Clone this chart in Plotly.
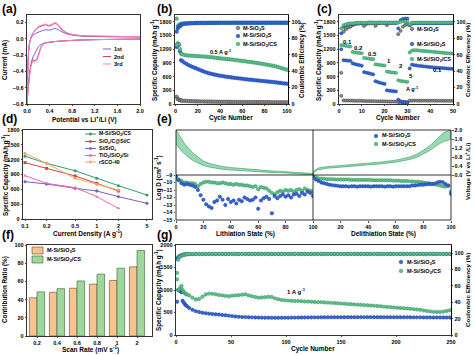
import plotly.graph_objects as go

W, H = 474, 355
FONT = "Arial, Liberation Sans, sans-serif"

# ---------------- data ----------------
# (a) cyclic voltammetry
cv_potential = [2.0, 1.6, 1.2, 0.9, 0.7, 0.5, 0.4, 0.3, 0.25, 0.2, 0.17, 0.14, 0.11, 0.08, 0.05, 0.03, 0.01, 0.0,
                0.01, 0.02, 0.03, 0.05, 0.08, 0.12, 0.17, 0.22, 0.28, 0.33, 0.38, 0.43, 0.5, 0.55, 0.6, 0.7, 0.8,
                1.0, 1.3, 1.6, 2.0]
cv_1st = [-0.005, -0.008, -0.012, -0.018, -0.025, -0.035, -0.042, -0.055, -0.07, -0.1, -0.14, -0.18, -0.22, -0.28,
          -0.4, -0.52, -0.68, -0.78,
          -0.45, -0.25, -0.12, -0.03, 0.02, 0.05, 0.07, 0.085, 0.1, 0.11, 0.105, 0.11, 0.125, 0.11, 0.09, 0.06,
          0.045, 0.03, 0.025, 0.022, 0.02]
cv_2nd = [-0.005, -0.008, -0.012, -0.018, -0.025, -0.035, -0.045, -0.06, -0.1, -0.2, -0.25, -0.27, -0.26, -0.3,
          -0.42, -0.55, -0.7, -0.8,
          -0.5, -0.3, -0.15, -0.04, 0.03, 0.08, 0.12, 0.145, 0.16, 0.17, 0.155, 0.165, 0.185, 0.165, 0.12, 0.07,
          0.05, 0.035, 0.03, 0.027, 0.025]
cv_3rd = [-0.005, -0.008, -0.012, -0.018, -0.025, -0.035, -0.045, -0.06, -0.11, -0.22, -0.27, -0.29, -0.28, -0.31,
          -0.43, -0.56, -0.71, -0.8,
          -0.5, -0.3, -0.15, -0.04, 0.03, 0.085, 0.13, 0.155, 0.17, 0.18, 0.165, 0.175, 0.2, 0.175, 0.13, 0.075,
          0.052, 0.036, 0.031, 0.028, 0.026]

# (b) cycling at 0.5 A/g
b_cycles = [1, 2, 3, 4, 5, 6] + list(range(8, 101, 2))
b_cap_sio2s = [160, 110, 95, 85, 78, 72,
               68, 66, 64, 62, 60, 58, 57, 56, 55, 54,
               53, 52, 51, 50, 50, 49, 48, 48, 47, 47,
               46, 46, 45, 45, 44, 44, 43, 43, 43, 42,
               42, 42, 41, 41, 41, 40, 40, 40, 40, 39,
               39, 39, 38, 38, 38, 38, 37]
b_cap_si = [1250, 1320, 1300, 1150, 960, 940,
            905, 875, 850, 825, 805, 785, 765, 745, 725, 705,
            690, 675, 662, 650, 640, 630, 620, 612, 604, 597,
            590, 583, 576, 570, 564, 558, 552, 546, 540, 535,
            530, 525, 520, 515, 510, 505, 500, 495, 490, 485,
            480, 474, 468, 462, 456, 450, 445]
b_cap_cs = [1870, 1330, 1310, 1200, 1100, 1090,
            1075, 1065, 1060, 1058, 1055, 1050, 1048, 1045, 1040, 1040,
            1035, 1030, 1025, 1020, 1012, 1005, 1000, 995, 990, 985,
            980, 975, 970, 965, 955, 950, 945, 938, 930, 925,
            918, 910, 905, 895, 888, 880, 870, 862, 855, 845,
            835, 822, 810, 795, 780, 765, 750]
b_ce_si = [88, 92, 94, 95, 96, 97,
           97.5, 97.8, 98, 98.2, 98.3, 98.4, 98.5, 98.5, 98.6, 98.6,
           98.6, 98.7, 98.7, 98.7, 98.7, 98.8, 98.8, 98.8, 98.8, 98.8,
           98.8, 98.8, 98.9, 98.9, 98.9, 98.9, 98.9, 98.9, 98.9, 98.9,
           98.9, 98.9, 98.9, 98.9, 98.9, 98.9, 98.9, 98.9, 98.9, 98.9,
           98.9, 98.9, 98.9, 98.9, 98.9, 98.9, 98.9]
b_ce_cs = [72, 95, 96, 97, 97.5, 98,
           98.2, 98.4, 98.5, 98.6, 98.6, 98.7, 98.7, 98.7, 98.8, 98.8,
           98.8, 98.8, 98.8, 98.8, 98.8, 98.8, 98.8, 98.8, 98.8, 98.8,
           98.8, 98.8, 98.8, 98.8, 98.8, 98.8, 98.8, 98.8, 98.8, 98.8,
           98.8, 98.8, 98.8, 98.8, 98.8, 98.8, 98.8, 98.8, 98.8, 98.8,
           98.8, 98.8, 98.8, 98.8, 98.8, 98.8, 98.8]

# (c) rate capability
c_cycles = list(range(1, 51))
c_cap_sio2s = [180, 78, 76, 75, 75, 72, 71, 70, 70, 70, 66, 65, 65, 64, 64, 60, 60, 59, 59, 58,
               55, 54, 54, 53, 53, 45, 20, 40, 42, 42, 72, 74, 74, 74, 73, 73, 73, 73, 72, 72,
               72, 72, 71, 71, 71, 71, 70, 70, 70, 70]
c_cap_si = [1200, 960, 955, 950, 945, 890, 875, 862, 850, 838, 700, 688, 675, 662, 650, 500, 482, 466, 452, 440,
            300, 292, 286, 280, 276, 95, 62, 45, 38, 32, 780, 862, 852, 845, 838, 832, 826, 820, 815, 810,
            805, 800, 796, 792, 788, 784, 780, 776, 772, 768]
c_cap_cs = [1290, 1285, 1275, 1265, 1258, 1140, 1132, 1125, 1118, 1112, 1010, 1002, 995, 988, 982,
            870, 862, 855, 848, 842, 712, 702, 694, 688, 682, 520, 506, 498, 492, 486,
            1130, 1172, 1180, 1178, 1172, 1166, 1162, 1158, 1154, 1150, 1145, 1140, 1135, 1130, 1125,
            1120, 1116, 1112, 1108, 1104]
c_ce_sio2s = [38, 88, 91, 93, 94, 96, 97, 97.5, 98, 98, 95, 97.5, 98, 98, 98.5, 95, 98, 98.5, 98.5, 98.5,
              96, 98.5, 98.5, 98.5, 98.5, 85, 89, 94, 96, 97, 96, 98, 98.5, 98.5, 98.5, 98.5, 98.5, 98.5,
              98.5, 98.5, 98.5, 98.5, 98.5, 98.5, 98.5, 98.5, 98.5, 98.5, 98.5, 98.5]
c_ce_si = [86, 94, 96, 97, 97.5, 97, 98, 98.5, 98.5, 98.5, 98, 98.5, 99, 99, 99, 98.5, 99, 99, 99, 99,
           98.5, 99, 99, 99, 99, 92, 102, 103.5, 104, 104, 96, 98, 98.5, 98.5, 98.5, 98.5, 98.5, 98.5,
           98.5, 98.5, 98.5, 98.5, 98.5, 98.5, 98.5, 98.5, 98.5, 98.5, 98.5, 98.5]
c_ce_cs = [92, 96, 97, 97.5, 98, 98, 98.5, 98.5, 99, 99, 98.5, 99, 99, 99, 99, 99, 99, 99, 99, 99,
           99, 99, 99, 99, 99, 99, 100, 100.5, 100.5, 100.5, 97, 99, 99, 99, 99, 99, 99, 99, 99, 99,
           99, 99, 99, 99, 99, 99, 99, 99, 99, 99]
c_rate_labels = ["0.1", "0.2", "0.5", "1", "2", "5", "0.1"]

# (d) comparison with literature
d_current = [0.1, 0.2, 0.5, 1, 2, 5]
d_current_short = [0.1, 0.2, 0.5, 1, 2]
d_cs = [1270, 1126, 975, 822, 674, 485]
d_sioxc = [1140, 1025, 870, 721, 566]
d_sisiox = [755, 708, 620, 566, 452, 317]
d_tio2 = [876, 721, 634, 452, 216]
d_rsco = [1328, 1126, 822, 700, 586]

# (e) GITT
e_state = list(range(0, 101, 2))
e_li_si = [-9.2, -9.7, -10.1, -10.3, -10.2, -10.3, -10.4, -10.6, -11.0, -11.7, -12.3, -12.9, -13.2, -13.4, -12.6,
           -12.4, -11.9, -12.3, -13.0, -12.2, -12.6, -12.4, -12.8, -12.3, -12.5, -12.0, -12.2, -12.4, -12.3, -12.0,
           -13.5, -12.4, -12.1, -11.9, -12.2, -14.1, -11.8, -12.1, -11.8, -11.6, -11.9, -11.7, -12.0, -11.6, -11.5,
           -11.8, -11.4, -11.6, -11.2, -11.4, -11.8]
e_li_cs = [-9.5, -9.6, -9.8, -10.0, -10.0, -10.1, -10.1, -10.2, -10.5, -10.2, -10.0, -9.9, -9.9, -10.0, -10.0,
           -10.1, -10.1, -10.0, -10.1, -10.2, -10.2, -10.3, -10.2, -10.3, -10.3, -10.4, -10.4, -10.5, -10.6, -10.5,
           -10.9, -10.6, -10.7, -10.8, -11.1, -11.4, -11.6, -11.3, -11.1, -11.2, -11.0, -11.1, -11.0, -11.2, -11.0,
           -10.9, -11.1, -10.8, -11.0, -11.1, -11.2]
e_de_si = [-9.3, -9.6, -9.8, -10.0, -10.1, -10.2, -10.3, -10.35, -10.4, -10.45, -10.5, -10.5, -10.5, -10.55, -10.5,
           -10.5, -10.55, -10.5, -10.5, -10.5, -10.5, -10.55, -10.5, -10.5, -10.5, -10.5, -10.55, -10.5, -10.5, -10.55,
           -10.5, -10.5, -10.5, -10.5, -10.5, -10.5, -10.4, -10.4, -10.35, -10.3, -10.3, -10.25, -10.2, -10.2, -10.15,
           -10.0, -9.9, -9.95, -10.2, -10.4, -11.5]
e_de_cs = [-9.1, -9.3, -9.45, -9.5, -9.5, -9.55, -9.55, -9.55, -9.6, -9.6, -9.6, -9.6, -9.6, -9.6, -9.65,
           -9.65, -9.65, -9.65, -9.65, -9.65, -9.65, -9.65, -9.7, -9.7, -9.7, -9.7, -9.7, -9.7, -9.7, -9.75,
           -9.75, -9.75, -9.8, -9.8, -9.8, -9.85, -9.85, -9.9, -9.9, -9.95, -10.0, -10.05, -10.1, -10.2, -10.25,
           -10.3, -10.4, -10.5, -10.55, -10.45, -11.2]
e_li_env_x = [0, 2, 4, 6, 8, 10, 13, 16, 20, 25, 30, 35, 40, 50, 60, 70, 80, 90, 100]
e_li_upper = [2.0, 1.8, 1.6, 1.42, 1.27, 1.12, 0.95, 0.8, 0.62, 0.5, 0.42, 0.37, 0.33, 0.27, 0.22, 0.18, 0.15, 0.12, 0.07]
e_li_lower = [1.4, 1.22, 1.07, 0.95, 0.84, 0.74, 0.62, 0.52, 0.42, 0.34, 0.29, 0.25, 0.22, 0.18, 0.14, 0.11, 0.09, 0.06, 0.0]
e_de_env_x = [0, 1, 3, 5, 10, 20, 30, 40, 50, 60, 65, 70, 75, 80, 85, 90, 95, 100]
e_de_upper = [0.05, 0.2, 0.28, 0.33, 0.37, 0.42, 0.47, 0.52, 0.58, 0.66, 0.72, 0.8, 0.92, 1.1, 1.32, 1.6, 1.9, 2.0]
e_de_lower = [0.02, 0.14, 0.22, 0.26, 0.3, 0.35, 0.39, 0.44, 0.5, 0.57, 0.62, 0.69, 0.78, 0.93, 1.1, 1.33, 1.5, 1.58]

# (f) capacitive contribution
f_scan_rate = ["0.2", "0.4", "0.6", "0.8", "1", "2"]
f_si = [42, 48, 52.5, 57, 61, 76]
f_cs = [48.5, 52, 60.5, 68, 74.5, 94]

# (g) long cycling at 1 A/g
g_cycles = list(range(1, 11)) + list(range(12, 250, 3))
g_cap_si = [740, 1000, 990, 975, 950, 760, 720, 690, 660, 640,
            600, 560, 530, 510, 495, 485, 475, 468, 460, 455,
            445, 438, 430, 420, 412, 405, 400, 398, 395, 392,
            390, 388, 386, 385, 384, 383, 382, 382, 383, 384,
            385, 386, 387, 388, 389, 390, 390, 391, 392, 392,
            393, 393, 394, 394, 395, 395, 395, 396, 396, 396,
            396, 396, 397, 397, 397, 397, 396, 396, 396, 395,
            395, 395, 394, 394, 394, 393, 393, 393, 392, 392,
            392, 391, 391, 391, 390, 390, 390, 389, 389, 389]
g_cap_cs = [1380, 1000, 1020, 1050, 1090, 1000, 960, 930, 910, 900,
            880, 830, 790, 800, 850, 900, 920, 915, 905, 890,
            880, 870, 860, 875, 880, 885, 895, 905, 880, 860,
            845, 830, 835, 840, 850, 845, 815, 795, 780, 770,
            765, 760, 755, 755, 750, 745, 745, 740, 735, 730,
            730, 725, 720, 715, 712, 705, 700, 695, 690, 685,
            680, 675, 672, 665, 660, 655, 650, 645, 638, 630,
            625, 620, 612, 605, 600, 595, 590, 582, 575, 568,
            560, 548, 535, 525, 515, 510, 510, 520, 535, 550]
g_ce_si = [93, 95, 96, 97, 97.5, 98, 98.3, 98.5, 98.6, 98.7,
           98.8, 98.8, 98.9, 98.9, 98.9, 98.9, 99, 99, 99, 99,
           99, 99, 99, 99, 99, 99, 99, 99, 99, 99,
           99, 99, 99, 99, 99, 99, 99, 99, 99, 99,
           99, 99, 99, 99, 99, 99, 99, 99, 99, 99,
           99, 99, 99, 99, 99, 99, 99, 99, 99, 99,
           99, 99, 99, 99, 99, 99, 99, 99, 99, 99,
           99, 99, 99, 99, 99, 99, 99, 99, 99, 99,
           99, 99, 99, 99, 99, 99, 99, 99, 99, 99]
g_ce_cs = [68, 92, 95, 96, 97, 97.5, 98, 98.5, 98.8, 99,
           99, 99.1, 99.1, 99.2, 99.2, 99.2, 99.2, 99.2, 99.2, 99.2,
           99.2, 99.2, 99.2, 99.2, 99.2, 99.2, 99.2, 99.2, 99.2, 99.2,
           99.2, 99.2, 99.2, 99.2, 99.2, 99.2, 99.2, 99.2, 99.2, 99.2,
           99.2, 99.2, 99.2, 99.2, 99.2, 99.2, 99.2, 99.2, 99.2, 99.2,
           99.2, 99.2, 99.2, 99.2, 99.2, 99.2, 99.2, 99.2, 99.2, 99.2,
           99.2, 99.2, 99.2, 99.2, 99.2, 99.2, 99.2, 99.2, 99.2, 99.2,
           99.2, 99.2, 99.2, 99.2, 99.2, 99.2, 99.2, 99.2, 99.2, 99.2,
           99.2, 99.2, 99.2, 99.2, 99.2, 99.2, 99.2, 99.2, 99.2, 99.2]

# ---------------- styling ----------------
BLUE, BLUE_E = "#3466d6", "#1d3f9e"
GREEN, GREEN_E = "#5cc38c", "#2e8b5a"
GRAY, GRAY_E = "#8a8a8a", "#3c3c3c"
C1, C2, C3 = "#7a5cc4", "#c9417f", "#ec86b5"


def X(p):
    return p / W


def Y(p):
    return 1 - p / H


def xd(a, b):
    return [X(a), X(b)]


def yd(top, bottom):
    return [Y(bottom), Y(top)]


def axis(domain, rng, **kw):
    d = dict(domain=domain, range=rng, showline=True, linecolor="black", linewidth=0.8, mirror=True,
             ticks="outside", ticklen=1.5, tickwidth=0.7, tickcolor="black", automargin=False, tickangle=0,
             tickfont=dict(size=5.5, family=FONT, color="black", weight="bold"),
             showgrid=False, zeroline=False)
    d.update(kw)
    return d


fig = go.Figure()


def scat(x, y, xa, ya, color, edge, size=3.6, name=""):
    fig.add_trace(go.Scatter(x=x, y=y, xaxis=xa, yaxis=ya, mode="markers", name=name, showlegend=False,
                             marker=dict(size=size, color=color, line=dict(color=edge, width=0.5))))


# (a)
for vals, col in [(cv_1st, C1), (cv_2nd, C2), (cv_3rd, C3)]:
    fig.add_trace(go.Scatter(x=cv_potential, y=vals, xaxis="x", yaxis="y", mode="lines", showlegend=False,
                             line=dict(color=col, width=1, shape="spline", smoothing=0.8)))

# (b)
scat(b_cycles, b_ce_cs, "x2", "y3", GREEN, GREEN_E)
scat(b_cycles, b_ce_si, "x2", "y3", BLUE, BLUE_E)
scat(b_cycles, b_cap_sio2s, "x2", "y2", GRAY, GRAY_E)
scat(b_cycles, b_cap_si, "x2", "y2", BLUE, BLUE_E)
scat(b_cycles, b_cap_cs, "x2", "y2", GREEN, GREEN_E)

# (c)
scat(c_cycles, c_ce_sio2s, "x3", "y5", GRAY, GRAY_E, 3.2)
scat(c_cycles, c_ce_si, "x3", "y5", BLUE, BLUE_E, 3.2)
scat(c_cycles, c_ce_cs, "x3", "y5", GREEN, GREEN_E, 3.2)
scat(c_cycles, c_cap_sio2s, "x3", "y4", GRAY, GRAY_E, 3.2)
scat(c_cycles, c_cap_si, "x3", "y4", BLUE, BLUE_E, 3.2)
scat(c_cycles, c_cap_cs, "x3", "y4", GREEN, GREEN_E, 3.2)

# (d)
D_SERIES = [
    (d_current, d_cs, "#2f9e6b", "circle"),
    (d_current_short, d_sioxc, "#d8413b", "square"),
    (d_current, d_sisiox, "#7b5ec2", "diamond"),
    (d_current_short, d_tio2, "#e66aa8", "triangle-up"),
    (d_current_short, d_rsco, "#f2a86a", "circle"),
]
for xs, ys, col, sym in D_SERIES:
    fig.add_trace(go.Scatter(x=xs, y=ys, xaxis="x4", yaxis="y6", mode="lines+markers", showlegend=False,
                             line=dict(color=col, width=1), marker=dict(size=3, color=col, symbol=sym)))

# (e) voltage bands
for ex, up, lo, xa in [(e_li_env_x, e_li_upper, e_li_lower, "x5"), (e_de_env_x, e_de_upper, e_de_lower, "x6")]:
    fig.add_trace(go.Scatter(x=ex + ex[::-1], y=up + lo[::-1], xaxis=xa, yaxis="y8", mode="lines",
                             fill="toself", fillcolor="rgba(110,200,150,0.7)", showlegend=False,
                             line=dict(color="#2e9a62", width=0.6)))
scat(e_state, e_li_cs, "x5", "y7", GREEN, GREEN_E, 3.4)
scat(e_state, e_li_si, "x5", "y7", BLUE, BLUE_E, 3.4)
scat(e_state, e_de_cs, "x6", "y7", GREEN, GREEN_E, 3.4)
scat(e_state, e_de_si, "x6", "y7", BLUE, BLUE_E, 3.4)

# (f)
fig.add_trace(go.Bar(x=f_scan_rate, y=f_si, xaxis="x7", yaxis="y9", showlegend=False,
                     marker=dict(color="#f8c48e", line=dict(color="#5a4a3a", width=0.6))))
fig.add_trace(go.Bar(x=f_scan_rate, y=f_cs, xaxis="x7", yaxis="y9", showlegend=False,
                     marker=dict(color="#9fd89c", line=dict(color="#3d5a3d", width=0.6))))

# (g)
scat(g_cycles, g_ce_si, "x8", "y11", BLUE, BLUE_E, 3.4)
scat(g_cycles, g_ce_cs, "x8", "y11", GREEN, GREEN_E, 3.4)
scat(g_cycles, g_cap_si, "x8", "y10", BLUE, BLUE_E, 3.4)
scat(g_cycles, g_cap_cs, "x8", "y10", GREEN, GREEN_E, 3.4)

# ---------------- axes ----------------
lay = {}
lay["xaxis"] = axis(xd(27, 140), [0, 2.0], anchor="y", tickvals=[0, 0.4, 0.8, 1.2, 1.6, 2.0], tickformat=".1f")
lay["yaxis"] = axis(yd(15, 104), [-0.8, 0.29], anchor="x", tickvals=[-0.8, -0.6, -0.4, -0.2, 0.0, 0.2],
                    tickformat=".1f")

lay["xaxis2"] = axis(xd(175, 288), [-0.5, 101], anchor="y2", tickvals=[0, 20, 40, 60, 80, 100])
lay["yaxis2"] = axis(yd(15, 104), [0, 1950], anchor="x2", tickvals=[0, 300, 600, 900, 1200, 1500, 1800])
lay["yaxis3"] = axis(yd(15, 104), [0, 108.3], anchor="x2", overlaying="y2", side="right", mirror=False,
                     tickvals=[0, 20, 40, 60, 80, 100])

lay["xaxis3"] = axis(xd(339, 453), [0, 50], anchor="y4", tickvals=[0, 10, 20, 30, 40, 50])
lay["yaxis4"] = axis(yd(15, 104), [0, 1950], anchor="x3", tickvals=[0, 300, 600, 900, 1200, 1500, 1800])
lay["yaxis5"] = axis(yd(15, 104), [0, 108.3], anchor="x3", overlaying="y4", side="right", mirror=False,
                     tickvals=[0, 20, 40, 60, 80, 100])

lay["xaxis4"] = axis(xd(23, 152), [-1.028, 0.769], anchor="y6", type="log",
                     tickvals=d_current, ticktext=["0.1", "0.2", "0.5", "1", "2", "5"])
lay["yaxis6"] = axis(yd(130, 219), [0, 1800], anchor="x4", tickvals=[0, 300, 600, 900, 1200, 1500, 1800])

lay["xaxis5"] = axis(xd(176, 313), [0, 100], anchor="y7", showline=False, tickvals=[0, 20, 40, 60, 80, 100])
lay["xaxis6"] = axis(xd(313, 451), [0, 100], anchor="y7", showline=False, tickvals=[20, 40, 60, 80, 100])
lay["yaxis7"] = axis(yd(175, 220), [-15, -9], anchor="x5", showline=False,
                     tickvals=[-15, -14, -13, -12, -11, -10, -9])
lay["yaxis8"] = axis(yd(130, 175), [0, 2.0], anchor="x6", side="right", showline=False,
                     tickvals=[0, 0.4, 0.8, 1.2, 1.6, 2.0], tickformat=".1f")

lay["xaxis7"] = axis(xd(27, 152), [-0.5, 5.75], anchor="y9", type="category")
lay["yaxis9"] = axis(yd(245, 336), [0, 100], anchor="x7", tickvals=[0, 20, 40, 60, 80, 100])

lay["xaxis8"] = axis(xd(176, 451), [0, 250], anchor="y10", tickvals=[0, 50, 100, 150, 200, 250])
lay["yaxis10"] = axis(yd(245, 335), [0, 2000], anchor="x8", tickvals=[0, 500, 1000, 1500, 2000])
lay["yaxis11"] = axis(yd(245, 335), [0, 110], anchor="x8", overlaying="y10", side="right", mirror=False,
                      tickvals=[0, 20, 40, 60, 80, 100])

# ---------------- annotations & shapes ----------------
ann = []
shapes = []


def txt(x, y, s, size=6, xa="center", ya="middle", angle=0, color="black", bold=True):
    ann.append(dict(x=X(x), y=Y(y), xref="paper", yref="paper", text=("<b>%s</b>" % s) if bold else s,
                    showarrow=False, xanchor=xa, yanchor=ya, textangle=angle, borderpad=0,
                    font=dict(size=size, family=FONT, color=color)))


def dot(cx, cy, col, edge, r=1.8):
    shapes.append(dict(type="circle", xref="paper", yref="paper", x0=X(cx - r), x1=X(cx + r),
                       y0=Y(cy + r), y1=Y(cy - r), fillcolor=col, line=dict(color=edge, width=0.5)))


def hline(x0, x1, y, col, w=1):
    shapes.append(dict(type="line", xref="paper", yref="paper", x0=X(x0), x1=X(x1), y0=Y(y), y1=Y(y),
                       line=dict(color=col, width=w)))


# panel letters
for lab, x, y in [("(a)", 1, 1), ("(b)", 156, 1), ("(c)", 316, 1), ("(d)", 1, 111), ("(e)", 156, 111),
                  ("(f)", 1, 227), ("(g)", 156, 227)]:
    txt(x, y, lab, 12, "left", "top")

# axis titles
txt(84, 119, "Potential vs Li<sup>+</sup>/Li (V)", 6.5)
txt(5, 60, "Current (mA)", 6.5, angle=-90)
txt(231, 118, "Cycle Number", 6.5)
txt(154, 60, "Specific Capacity (mAh g<sup>-1</sup>)", 6.3, angle=-90)
txt(302, 60, "Coulombic Efficiency (%)", 6.3, angle=-90)
txt(398, 118, "Cycle Number", 6.5)
txt(318, 60, "Specific Capacity (mAh g<sup>-1</sup>)", 6.3, angle=-90)
txt(467, 60, "Coulombic Efficiency (%)", 6.2, angle=-90)
txt(87, 233, "Current Density (A g<sup>-1</sup>)", 6.5)
txt(5, 175, "Specific Capacity (mAh g<sup>-1</sup>)", 6.3, angle=-90)
txt(158, 178, "Log D (cm<sup>2</sup> s<sup>-1</sup>)", 6.3, angle=-90)
txt(467, 172, "Voltage (V vs Li<sup>+</sup>/Li)", 6.2, angle=-90)
txt(245, 234, "Lithiation State (%)", 6.5)
txt(383, 234, "Delithiation State (%)", 6.5)
txt(90, 349, "Scan Rate (mV s<sup>-1</sup>)", 6.5)
txt(5, 290, "Contribution Ratio (%)", 6.3, angle=-90)
txt(313, 349, "Cycle Number", 6.5)
txt(158, 290, "Specific Capacity (mAh g<sup>-1</sup>)", 6.3, angle=-90)
txt(467, 290, "Coulombic Efficiency (%)", 6.2, angle=-90)

# legend (a)
for i, (lab, col) in enumerate([("1st", C1), ("2nd", C2), ("3rd", C3)]):
    yy = 49 + 7.5 * i
    hline(103, 111, yy, col)
    txt(113, yy, lab, 5.5, "left")

# legend (b)
LEG3 = [("M-SiO<sub>2</sub>S", GRAY, GRAY_E), ("M-Si/SiO<sub>2</sub>S", BLUE, BLUE_E),
        ("M-Si/SiO<sub>2</sub>/CS", GREEN, GREEN_E)]
for i, (lab, col, ed) in enumerate(LEG3):
    yy = 28 + 8 * i
    dot(238, yy, col, ed)
    txt(242, yy, lab, 5.5, "left")
txt(221, 52, "0.5 A g<sup>-1</sup>", 5.5)

# legend (c)
for i, (lab, col, ed) in enumerate(LEG3):
    yy = 29 + 15 * i
    dot(412, yy, col, ed)
    txt(416, yy, lab, 5.5, "left")
for lab, x, y in zip(c_rate_labels, [347, 358, 372, 389, 401, 411, 437], [42, 48, 54, 61, 66, 76, 70]):
    txt(x, y, lab, 6)
txt(412, 89, "A g<sup>-1</sup>", 5.5)

# legend (d)
D_LABELS = ["M-Si/SiO<sub>2</sub>/CS", "SiO<sub>x</sub>/C@Si/C", "Si/SiO<sub>x</sub>",
            "TiO<sub>2</sub>/SiO<sub>2</sub>/Si", "rSCO-40"]
for i, (lab, ser) in enumerate(zip(D_LABELS, D_SERIES)):
    yy = [134, 141.5, 148.5, 155.5, 162][i]
    hline(85, 96, yy, ser[2])
    dot(90.5, yy, ser[2], ser[2], 1.2)
    txt(98, yy, lab, 5.2, "left")

# legend (e)
for i, (lab, col, ed) in enumerate(LEG3[1:]):
    yy = 136 + 8 * i
    dot(376, yy, col, ed)
    txt(381, yy, lab, 5.5, "left")

# legend (f)
for i, (lab, col, ed) in enumerate([("M-Si/SiO<sub>2</sub>S", "#f8c48e", "#5a4a3a"),
                                    ("M-Si/SiO<sub>2</sub>/CS", "#9fd89c", "#3d5a3d")]):
    y0 = 247 + 9 * i
    shapes.append(dict(type="rect", xref="paper", yref="paper", x0=X(32), x1=X(43), y0=Y(y0 + 7), y1=Y(y0),
                       fillcolor=col, line=dict(color=ed, width=0.6)))
    txt(46, y0 + 3.5, lab, 5.5, "left")

# legend (g)
for i, (lab, col, ed) in enumerate(LEG3[1:]):
    yy = 262 + 9 * i
    dot(401, yy, col, ed)
    txt(406, yy, lab, 5.5, "left")
txt(296, 291, "1 A g<sup>-1</sup>", 6)

# frames for (e)
shapes.append(dict(type="rect", xref="paper", yref="paper", x0=X(176), x1=X(451), y0=Y(220), y1=Y(130),
                   line=dict(color="black", width=0.8)))
shapes.append(dict(type="line", xref="paper", yref="paper", x0=X(313), x1=X(313), y0=Y(220), y1=Y(130),
                   line=dict(color="black", width=0.8)))
hline(176, 451, 175, "black", 0.8)

fig.update_layout(
    width=W, height=H, margin=dict(l=0, r=0, t=0, b=0), template="none",
    paper_bgcolor="white", plot_bgcolor="white", showlegend=False, hovermode=False,
    font=dict(family=FONT, size=6, color="black"),
    barmode="group", bargap=0.24, bargroupgap=0.0,
    annotations=ann, shapes=shapes, **lay)

fig.write_html("out.html", config={"displayModeBar": False, "staticPlot": True},
               post_script="document.body.style.margin='0px';document.body.style.padding='0px';"
                           "document.body.style.overflow='hidden';")
